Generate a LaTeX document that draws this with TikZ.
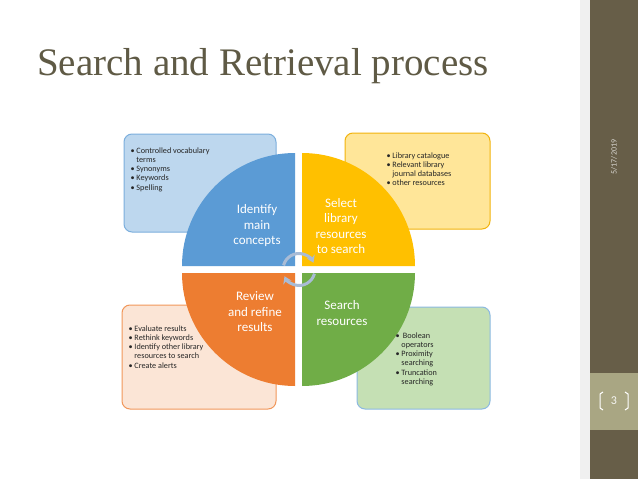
\documentclass[tikz,border=0pt]{standalone}
\usepackage{fontspec}
\setmainfont{Carlito}
\newfontfamily\titlefont{Liberation Serif}
\usetikzlibrary{arrows.meta}
\definecolor{olive}{HTML}{5F5A45}
\definecolor{bar}{HTML}{675E48}
\definecolor{tab}{HTML}{A9A683}
\definecolor{qblue}{HTML}{5B9BD5}
\definecolor{qyel}{HTML}{FFC000}
\definecolor{qora}{HTML}{ED7D31}
\definecolor{qgrn}{HTML}{70AD47}
\definecolor{bblue}{HTML}{BDD7EE}
\definecolor{byel}{HTML}{FFE699}
\definecolor{bora}{HTML}{FBE5D6}
\definecolor{bgrn}{HTML}{C5E0B4}
\definecolor{arr}{HTML}{A9BCD6}
\tikzset{
 infobox/.style={rounded corners=8pt,line width=1pt,anchor=north west},
 info/.style={font=\fontsize{8.2}{9.2}\selectfont,align=left,anchor=north west,text=black!85},
 qtext/.style={font=\fontsize{13}{15.5}\selectfont,text=white,align=center},
 cyc/.style={arr,line width=3pt,-{Stealth[length=7pt,width=9pt]}},
}
\begin{document}
\begin{tikzpicture}[x=1pt,y=-1pt]
\useasboundingbox (0,0) rectangle (638,479);
\fill[white] (0,0) rectangle (638,479);
\fill[black!6] (580,0) rectangle (590,479);
\fill[bar] (590,0) rectangle (638,479);
\fill[tab] (590,373) rectangle (638,430);
\node[text=white!90!tab,font=\fontsize{12}{12}\selectfont] (pg) at (614,401) {3};
\draw[white,line width=1pt] (603,392) -- (600,394) -- (600,408) -- (603,410);
\draw[white,line width=1pt] (625,392) -- (628,394) -- (628,408) -- (625,410);
\node[rotate=90,text=white!75!bar,font=\fontsize{8}{8}\selectfont] (date) at (614,157) {5/17/2019};
\node[anchor=base west,text=olive,font=\titlefont\fontsize{39}{39}\selectfont,inner sep=0] (title) at (37,75) {Search and Retrieval process};
% boxes
\draw[infobox,draw=qblue!80,fill=bblue] (124,134) rectangle (276,232);
\draw[infobox,draw=qyel!80!brown,fill=byel] (345,133) rectangle (490,229);
\draw[infobox,draw=qora!80,fill=bora] (122,305) rectangle (276,409);
\draw[infobox,draw=qblue!70,fill=bgrn] (357,307) rectangle (490,409);
% quadrants
\def\R{113}
\fill[qblue] (295,266) -- (295,153) arc[start angle=-90,end angle=-180,radius=\R] -- cycle;
\fill[qyel] (302,266) -- (415,266) arc[start angle=0,end angle=-90,radius=\R] -- cycle;
\fill[qora] (295,273) -- (182,273) arc[start angle=180,end angle=90,radius=\R] -- cycle;
\fill[qgrn] (302,273) -- (302,386) arc[start angle=90,end angle=0,radius=\R] -- cycle;
\node[info] (t1) at (127,144) {• Controlled vocabulary\\\phantom{• }terms\\• Synonyms\\• Keywords\\• Spelling};
\node[info] (t2) at (383,149) {• Library catalogue\\• Relevant library\\\phantom{• }journal databases\\• other resources};
\node[info] (t3) at (125,322) {• Evaluate results\\• Rethink keywords\\• Identify other library\\\phantom{• }resources to search\\• Create alerts};
\node[info] (t4) at (392,329) {• \,Boolean\\\phantom{• }operators\\• Proximity\\\phantom{• }searching\\• Truncation\\\phantom{• }searching};
\node[qtext] (q1) at (257,226) {Identify\\main\\concepts};
\node[qtext] (q2) at (341,226) {Select\\library\\resources\\to search};
\node[qtext] (q3) at (255,312) {Review\\and refine\\results};
\node[qtext] (q4) at (342,313) {Search\\resources};
% cycle arrows
\coordinate (c) at (299,269.5);
\draw[cyc] ([shift={(195:16)}]c) arc[start angle=195,end angle=335,radius=16];
\draw[cyc] ([shift={(15:16)}]c) arc[start angle=15,end angle=155,radius=16];
\end{tikzpicture}
\end{document}
